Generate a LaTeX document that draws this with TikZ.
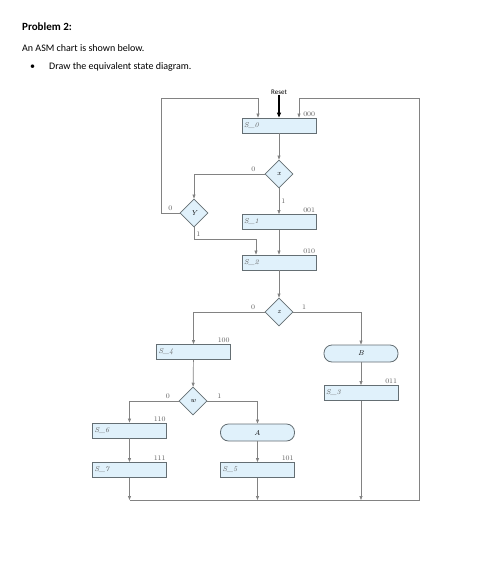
\documentclass[tikz,border=0pt]{standalone}
\usepackage{fontspec}
\usepackage{tikz}
\newfontfamily\calibri{Carlito}
\usetikzlibrary{arrows.meta, shapes.geometric}
\definecolor{asmfill}{RGB}{224,241,251}
\definecolor{asmedge}{RGB}{100,110,115}
\definecolor{asmline}{RGB}{130,130,130}
\definecolor{asmtext}{RGB}{95,95,95}
\newcommand{\asmfont}{\fontsize{7}{8}\selectfont}
\tikzset{
  statebox/.style={draw=asmedge, line width=0.8pt, fill=asmfill, rectangle, minimum width=74pt, minimum height=15pt,
    text width=70pt, inner xsep=2pt, inner ysep=0pt, align=left, font=\asmfont\itshape, text=asmtext},
  outbox/.style={draw=asmedge, line width=0.8pt, fill=asmfill, rectangle, rounded corners=8pt, minimum width=74pt,
    minimum height=17pt, inner sep=0pt, font=\asmfont\itshape},
  decision/.style={draw=asmedge, line width=0.8pt, fill=asmfill, diamond, aspect=1, minimum size=28pt, inner sep=0pt,
    font=\asmfont\itshape},
  code/.style={anchor=south east, inner sep=1pt, font=\asmfont, text=asmtext},
  brlabel/.style={inner sep=2pt, font=\asmfont, text=asmtext},
  flow/.style={draw=asmline, line width=0.7pt, -{Triangle[length=4pt, width=3pt]}},
  header/.style={anchor=west, inner sep=0pt, font=\calibri\fontsize{10}{12}\selectfont}
}

\begin{document}
\begin{tikzpicture}[x=1pt, y=-1pt]
\useasboundingbox (0,0) rectangle (486,587);

\node[header, font=\calibri\bfseries\fontsize{11}{13}\selectfont] (title) at (22,27) {Problem 2:};
\node[header] (intro) at (22,48) {An ASM chart is shown below.};
\node[header] (dot) at (30,67) {\textbullet};
\node[header] (task) at (49,67) {Draw the equivalent state diagram.};

\node[inner sep=1pt, font=\calibri\fontsize{7}{8}\selectfont] (reset) at (279,92) {Reset};

\node[statebox, label={[code]north east:000}] (S0) at (279,125.5) {S\_0};
\node[decision] (X) at (279,174) {x};
\node[decision] (Y) at (194,213) {Y};
\node[statebox, label={[code]north east:001}] (S1) at (279,222) {S\_1};
\node[statebox, label={[code]north east:010}] (S2) at (279,262.5) {S\_2};
\node[decision] (Z) at (279,312) {z};
\node[statebox, label={[code]north east:100}] (S4) at (193.5,352) {S\_4};
\node[outbox] (B) at (361,353.5) {B};
\node[statebox, label={[code]north east:011}] (S3) at (361,393) {S\_3};
\node[decision] (W) at (193,401) {w};
\node[statebox, label={[code]north east:110}] (S6) at (129.5,430.5) {S\_6};
\node[outbox] (A) at (257.5,432.5) {A};
\node[statebox, label={[code]north east:111}] (S7) at (129.5,470) {S\_7};
\node[statebox, label={[code]north east:101}] (S5) at (257.5,470) {S\_5};

\coordinate (tl) at (161,98);
\coordinate (bl) at (129.5,500);
\coordinate (br) at (419,500);
\coordinate (tr) at (419,98);

\draw[black, line width=1.3pt, -{Triangle[length=5pt, width=4pt]}] (reset) -- (S0);
\draw[flow] (S0) -- (X);
\draw[flow] (X.west) -| node[brlabel, pos=0.08, above] (x0) {0} (Y.north);
\draw[flow] (X.south) -- node[brlabel, right] (x1) {1} (S1.north);
\draw[flow] (Y.west) -| node[brlabel, pos=0.25, above] (y0) {0} (tl) -| ([xshift=-21pt]S0.north);
\draw[flow] (Y.south) -- node[brlabel, right, pos=0.6] (y1) {1} ++(0,12) -| ([xshift=-23pt]S2.north);
\draw[flow] (S1) -- (S2);
\draw[flow] (S2) -- (Z);
\draw[flow] (Z.west) -| node[brlabel, pos=0.08, above] (z0) {0} (S4.north);
\draw[flow] (Z.east) -| node[brlabel, pos=0.08, above] (z1) {1} (B.north);
\draw[flow] (B) -- (S3);
\draw[flow] (S4) -- (W);
\draw[flow] (W.west) -| node[brlabel, pos=0.11, above] (w0) {0} (S6.north);
\draw[flow] (W.east) -| node[brlabel, pos=0.12, above] (w1) {1} (A.north);
\draw[flow] (S6) -- (S7);
\draw[flow] (A) -- (S5);
\draw[flow] (S7) -- (bl);
\draw[flow] (S5) -- (S5 |- bl);
\draw[flow] (S3) -- (S3 |- bl);
\draw[flow] (bl) -- (br) -- (tr) -| ([xshift=20pt]S0.north);
\end{tikzpicture}
\end{document}
